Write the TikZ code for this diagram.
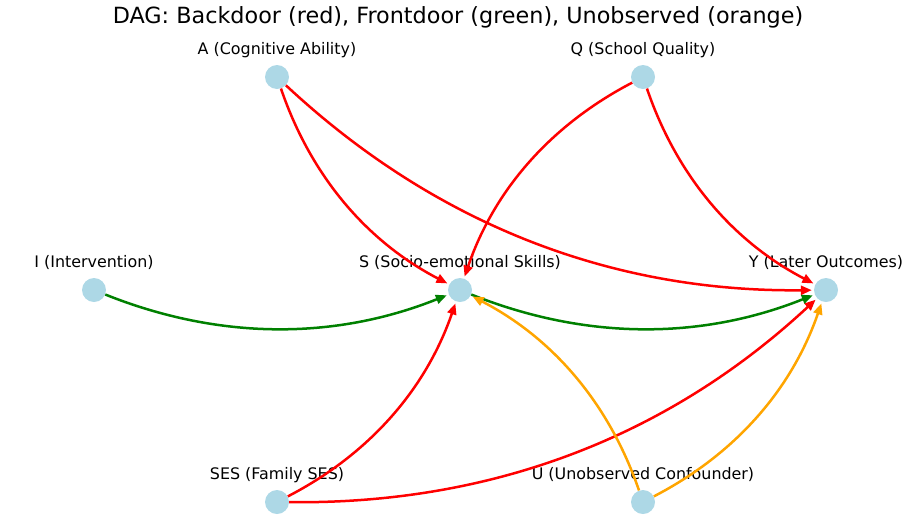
\documentclass[tikz,border=0pt]{standalone}
\usepackage{fontspec}
\setmainfont{DejaVu Sans}
\usetikzlibrary{arrows.meta}
\definecolor{nodeblue}{HTML}{ADD8E6}
\definecolor{fdgreen}{HTML}{008000}
\definecolor{uoorange}{HTML}{FFA500}

\begin{document}
\begin{tikzpicture}[x=1pt,y=-1pt,>={Triangle[length=11pt,width=9pt]},
 var/.style={circle,fill=nodeblue,minimum size=24pt,inner sep=0pt},
 lbl/.style={anchor=base,inner sep=0pt,font=\fontsize{15.9}{19}\selectfont},
 edge/.style={->,line width=2.5pt,shorten >=2pt,bend right=21.8,looseness=0.917},
 bd/.style={edge,draw=red},
 fd/.style={edge,draw=fdgreen},
 uo/.style={edge,draw=uoorange}]
\useasboundingbox (0,0) rectangle (911,523);
% title
\node[anchor=base,inner sep=0pt,font=\fontsize{22.3}{26}\selectfont] (title) at (458,23)
 {DAG: Backdoor (red), Frontdoor (green), Unobserved (orange)};
% variables
\node[var] (a) at (277,77) {};
\node[var] (q) at (643,77) {};
\node[var] (i) at (94,290) {};
\node[var] (s) at (460,290) {};
\node[var] (y) at (826,290) {};
\node[var] (ses) at (277,502) {};
\node[var] (u) at (643,502) {};
% labels
\node[lbl] (la) at (277,54) {A (Cognitive Ability)};
\node[lbl] (lq) at (643,54) {Q (School Quality)};
\node[lbl] (li) at (94,267) {I (Intervention)};
\node[lbl] (ls) at (460,267) {S (Socio-emotional Skills)};
\node[lbl] (ly) at (826,267) {Y (Later Outcomes)};
\node[lbl] (lses) at (277,479) {SES (Family SES)};
\node[lbl] (lu) at (643,479) {U (Unobserved Confounder)};
% backdoor
\draw[bd] (a) to (s); \draw[bd] (a) to (y);
\draw[bd] (q) to (s); \draw[bd] (q) to (y);
\draw[bd] (ses) to (s); \draw[bd] (ses) to (y);
% frontdoor
\draw[fd] (i) to (s); \draw[fd] (s) to (y);
% unobserved
\draw[uo] (u) to (s); \draw[uo] (u) to (y);
\end{tikzpicture}
\end{document}
